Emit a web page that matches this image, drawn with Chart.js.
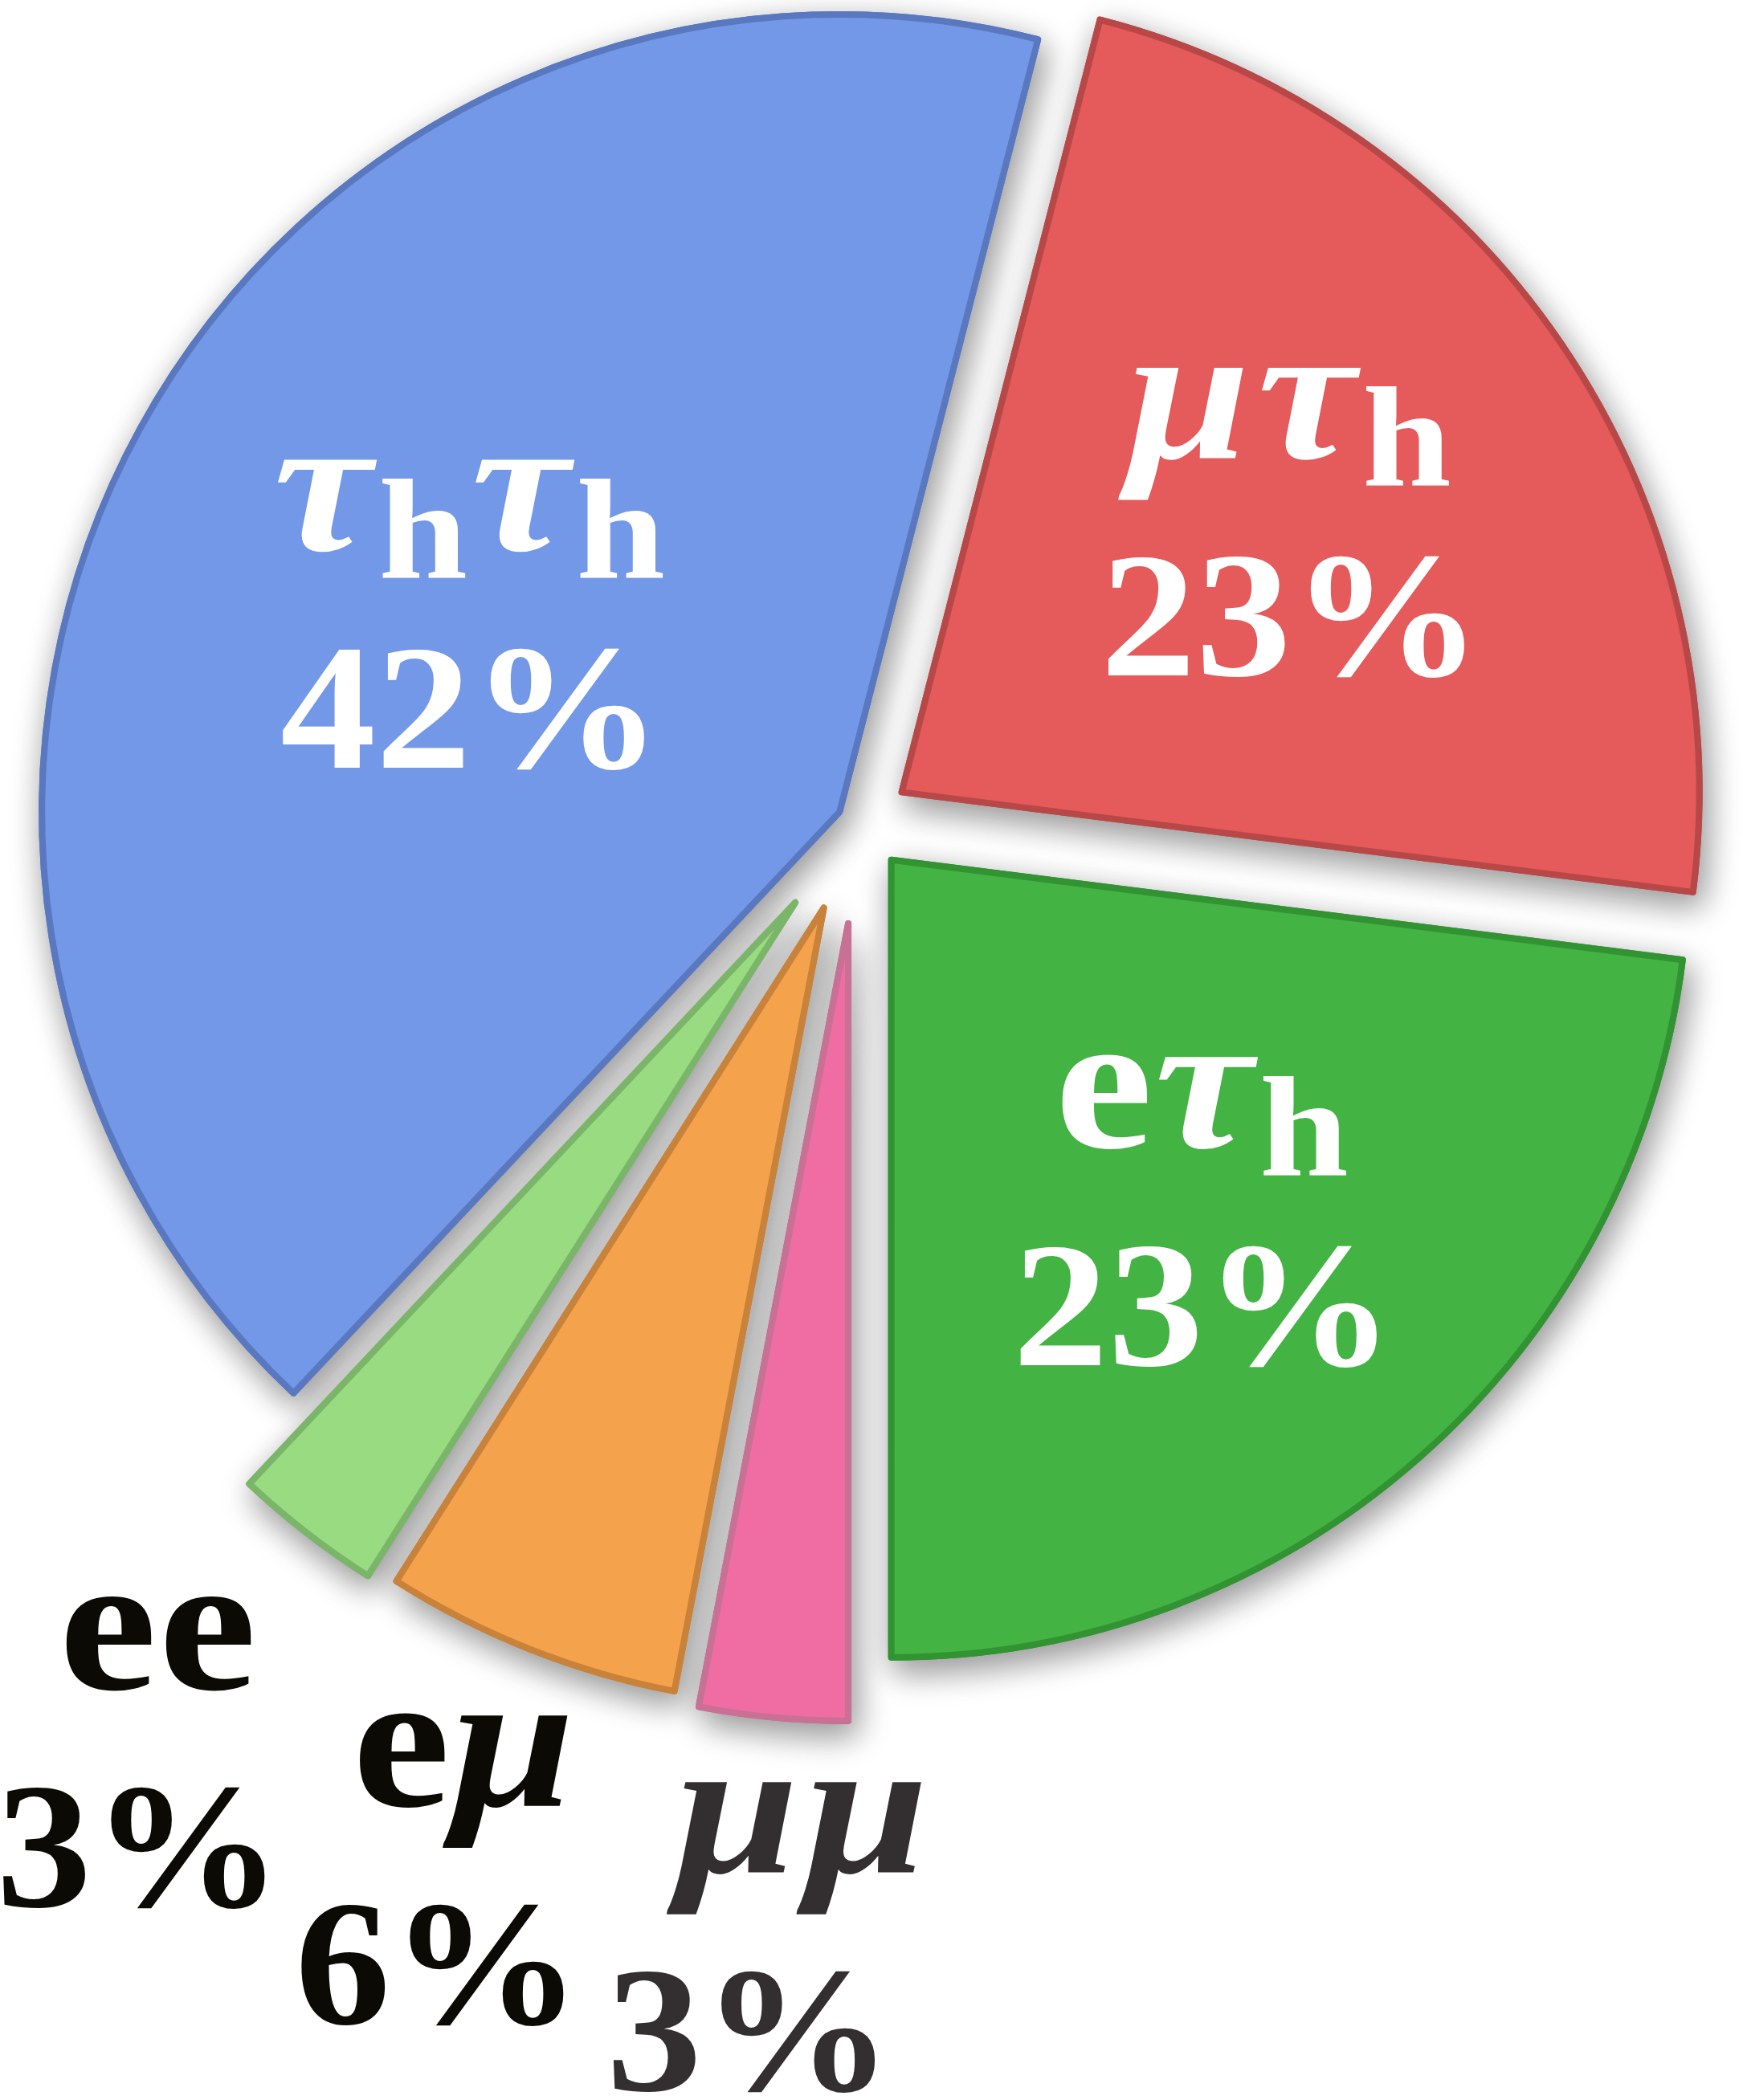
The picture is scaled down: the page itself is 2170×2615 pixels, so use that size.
<!DOCTYPE html>
<html>
<head>
<meta charset="utf-8">
<script src="https://cdn.jsdelivr.net/npm/chart.js@4.4.1/dist/chart.umd.min.js"></script>
<style>
  html, body { margin: 0; padding: 0; background: #ffffff; }
  #wrap { width: 2170px; height: 2615px; position: relative; }
</style>
</head>
<body>
<div id="wrap"><canvas id="pie"></canvas></div>
<script>
// decay channels, share in percent
var categories = ['τhτh', 'μτh', 'eτh', 'μμ', 'eμ', 'ee'];
var values = [42, 23, 23, 3, 6, 3];

var fillColors   = ['#7398E8', '#E55A5A', '#43B343', '#EF6DA2', '#F5A24C', '#98DB80'];
var borderColors = ['#5A78C0', '#B84848', '#329332', '#C97095', '#C8823A', '#7AB56A'];
var textColors   = ['#ffffff', '#ffffff', '#ffffff', '#332f30', '#0b0a05', '#0b0a05'];

// how far each slice is pulled out, and where its label sits
var explode     = [26, 66, 63, 127, 115, 127];
var labelRadius = [0.50, 0.564, 0.633, 1.328, 1.34, 1.378];
var labelTurn   = [-6.3, 4.2, 3.2, -3.1, -2.1, -2.4];
var line2Shift  = [0, 0, 0, -70, -36, -24];

var FONT = '"Liberation Serif"';
var BIG = 245, SUB = 178, PCT = 222;
var STRETCH1 = 1.12, STRETCH2 = 1.07;

function isGreek(ch) { return /[\u0370-\u03ff]/.test(ch); }

function drawRich(ctx, str, cx, base, color) {
    var runs = [];
    for (var k = 0; k < str.length; k++) {
        var ch = str[k];
        if (ch === 'h') runs.push({t: ch, f: 'bold ' + SUB + 'px ' + FONT, dy: 35, pad: 4});
        else if (isGreek(ch)) runs.push({t: ch, f: 'italic bold ' + BIG + 'px ' + FONT, dy: 0, pad: 8});
        else runs.push({t: ch, f: 'bold ' + BIG + 'px ' + FONT, dy: 0, pad: 2});
    }
    var w = 0;
    runs.forEach(function(r) {
        ctx.font = r.f;
        r.w = ctx.measureText(r.t).width + r.pad;
        w += r.w;
    });
    ctx.save();
    ctx.translate(cx, base);
    ctx.scale(STRETCH1, 1);
    var x = -w / 2;
    ctx.fillStyle = color;
    ctx.textAlign = 'left';
    ctx.textBaseline = 'alphabetic';
    runs.forEach(function(r) {
        ctx.font = r.f;
        ctx.fillText(r.t, x, r.dy);
        x += r.w;
    });
    ctx.restore();
}

var explodePlugin = {
    id: 'explode',
    afterDatasetUpdate: function(chart) {
        chart.getDatasetMeta(0).data.forEach(function(arc, i) {
            var mid = (arc.startAngle + arc.endAngle) / 2;
            arc.x += Math.cos(mid) * explode[i];
            arc.y += Math.sin(mid) * explode[i];
        });
    }
};

var shadowPlugin = {
    id: 'sliceShadow',
    beforeDatasetsDraw: function(chart) {
        var ctx = chart.ctx;
        ctx.save();
        ctx.shadowColor = 'rgba(0,0,0,0.42)';
        ctx.shadowBlur = 40;
        ctx.shadowOffsetX = 6;
        ctx.shadowOffsetY = 14;
        chart.getDatasetMeta(0).data.forEach(function(arc) { arc.draw(ctx); });
        ctx.restore();
    }
};

var labelPlugin = {
    id: 'sliceLabels',
    afterDatasetsDraw: function(chart) {
        var ctx = chart.ctx;
        chart.getDatasetMeta(0).data.forEach(function(arc, i) {
            var p = arc.getProps(['x', 'y', 'startAngle', 'endAngle', 'outerRadius'], true);
            var a = (p.startAngle + p.endAngle) / 2 + labelTurn[i] * Math.PI / 180;
            var r = p.outerRadius * labelRadius[i];
            var ax = p.x + Math.cos(a) * r;
            var ay = p.y + Math.sin(a) * r;
            drawRich(ctx, categories[i], ax, ay - 136, textColors[i]);
            ctx.save();
            ctx.translate(ax + line2Shift[i], ay + 135);
            ctx.scale(STRETCH2, 1);
            ctx.font = 'bold ' + PCT + 'px ' + FONT;
            ctx.textAlign = 'center';
            ctx.textBaseline = 'alphabetic';
            ctx.fillStyle = textColors[i];
            ctx.fillText(values[i] + '%', 0, 0);
            ctx.restore();
        });
    }
};

new Chart(document.getElementById('pie'), {
    type: 'pie',
    data: {
        labels: categories,
        datasets: [{
            data: values,
            backgroundColor: fillColors,
            borderColor: borderColors,
            borderWidth: 8,
            borderJoinStyle: 'round'
        }]
    },
    options: {
        responsive: true,
        maintainAspectRatio: false,
        devicePixelRatio: 1,
        animation: false,
        rotation: 223.2,
        radius: 993,
        layout: { padding: { left: 0, right: 34, top: 0, bottom: 568 } },
        plugins: {
            legend: { display: false },
            tooltip: { enabled: false }
        },
        events: []
    },
    plugins: [explodePlugin, shadowPlugin, labelPlugin]
});
</script>
</body>
</html>
